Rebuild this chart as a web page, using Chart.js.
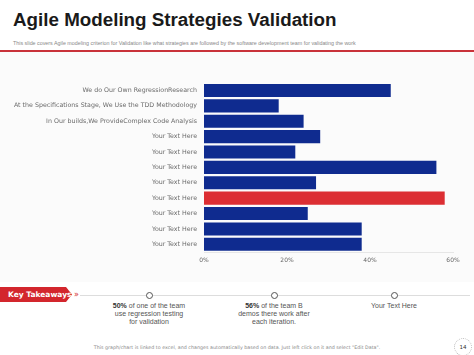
<!DOCTYPE html>
<html><head><meta charset="utf-8">
<script src="https://cdn.jsdelivr.net/npm/chart.js@4.4.1/dist/chart.umd.min.js"></script>
<style>
html,body{margin:0;padding:0;background:#fff;}
#slide{position:relative;width:474px;height:355px;overflow:hidden;background:#fff;font-family:"DejaVu Sans",sans-serif;}
#title{position:absolute;left:13px;top:9px;font-family:"Liberation Sans",sans-serif;font-weight:bold;font-size:18.8px;color:#1a1a1a;white-space:nowrap;}
#sub{position:absolute;left:13px;top:40px;font-family:"Liberation Sans",sans-serif;font-size:5.35px;color:#888;white-space:nowrap;}
#redline{position:absolute;left:0;top:50px;width:474px;height:1.5px;background:#c9333a;}
#panel{position:absolute;left:0;top:52px;width:474px;height:230px;background:#fbfbfb;}
#chartbox{position:absolute;left:0;top:72px;width:474px;height:200px;}
#key{position:absolute;left:0;top:287px;width:72px;height:15px;background:#d3262d;color:#fff;font-weight:bold;font-size:7.5px;line-height:15px;text-indent:8px;clip-path:polygon(0 0,66px 0,72px 50%,66px 100%,0 100%);}
#chev{position:absolute;left:74px;top:289px;font-size:8px;color:#d3262d;line-height:12px;}
#tl{position:absolute;left:80px;top:295px;width:390px;height:1px;background:#ddd;}
.dot{position:absolute;width:5px;height:5px;border:1px solid #555;border-radius:50%;background:#fff;top:292px;}
.tk{position:absolute;top:302px;width:100px;text-align:center;font-family:"Liberation Sans",sans-serif;font-size:7px;line-height:8px;color:#555;}
.tk b{color:#333;}
#foot{position:absolute;left:0;width:474px;top:345px;text-align:center;font-size:4.8px;color:#888;}
#pg{position:absolute;left:454px;top:338px;width:16px;height:16px;border:1px dotted #bbb;border-radius:50%;font-size:5.5px;line-height:16px;text-align:center;color:#333;}
</style></head>
<body><div id="slide">
<div id="title">Agile Modeling Strategies Validation</div>
<div id="sub">This slide covers Agile modeling criterion for Validation like what strategies are followed by the software development team for validating the work</div>
<div id="redline"></div>
<div id="panel"></div>
<div id="chartbox"><canvas id="c"></canvas></div>
<div id="key">Key Takeaways</div>
<div id="chev">»</div>
<div id="tl"></div>
<div id="takeaways"></div>
<div id="foot">This graph/chart is linked to excel, and changes automatically based on data. Just left click on it and select "Edit Data".</div>
<div id="pg">14</div>
</div>
<script>
const categories = [
  'We do Our Own RegressionResearch',
  'At the Specifications Stage, We Use the TDD Methodology',
  'In Our builds,We ProvideComplex Code Analysis',
  'Your Text Here','Your Text Here','Your Text Here','Your Text Here',
  'Your Text Here','Your Text Here','Your Text Here','Your Text Here'
];
const values = [45, 18, 24, 28, 22, 56, 27, 58, 25, 38, 38];
const highlightIndex = 7;
const xTickValues = [0, 20, 40, 60];
const takeawayBold = ['50%', '56%', ''];
const takeawayText = [' of one of the team<br>use regression testing<br>for validation', ' of the team B<br>demos there work after<br>each  iteration.', 'Your Text Here'];
const takeawayX = [149, 274, 394];

const blue = '#0f2b8f', red = '#dc2e33';
const tk = document.getElementById('takeaways');
takeawayX.forEach((x, i) => {
  const d = document.createElement('div'); d.className = 'dot'; d.style.left = (x - 3) + 'px'; tk.appendChild(d);
  const t = document.createElement('div'); t.className = 'tk'; t.style.left = (x - 50) + 'px';
  t.innerHTML = (takeawayBold[i] ? '<b>' + takeawayBold[i] + '</b>' : '') + takeawayText[i];
  tk.appendChild(t);
});

new Chart(document.getElementById('c'), {
  type: 'bar',
  data: {
    labels: categories,
    datasets: [{
      data: values,
      backgroundColor: values.map((v, i) => i === highlightIndex ? red : blue),
      borderWidth: 0,
      categoryPercentage: 1,
      barPercentage: 0.85
    }]
  },
  options: {
    indexAxis: 'y',
    responsive: true,
    maintainAspectRatio: false,
    animation: false,
    layout: { padding: { top: 7, right: 21, left: 0, bottom: 0 } },
    plugins: { legend: { display: false }, tooltip: { enabled: false } },
    scales: {
      x: {
        min: 0, max: 60,
        afterBuildTicks: s => { s.ticks = xTickValues.map(v => ({ value: v })); },
        afterFit: s => { s.height = 20; },
        grid: { display: false, drawTicks: false },
        border: { display: true, color: '#e6e6e6', width: 1 },
        ticks: { callback: v => v + '%', color: '#666', font: { family: 'DejaVu Sans', size: 6 }, padding: 5 }
      },
      y: {
        afterFit: s => { s.width = 204; },
        grid: { display: false, drawTicks: false },
        border: { display: false },
        ticks: { color: '#6a6a6a', font: { family: 'DejaVu Sans', size: 6.3 }, padding: 7, autoSkip: false }
      }
    }
  }
});
</script>
</body></html>
